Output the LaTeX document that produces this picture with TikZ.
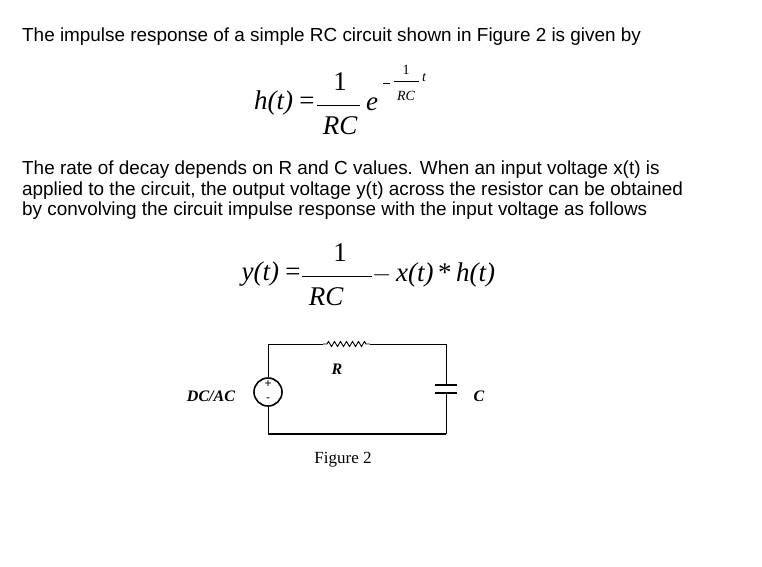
\documentclass[tikz,border=0pt]{standalone}
\usepackage{fontspec}
\setmainfont{Liberation Serif}
\newfontfamily\arial{Liberation Sans}
\usetikzlibrary{decorations.pathmorphing}
\begin{document}
\begin{tikzpicture}[x=1pt,y=-1pt,
  body/.style={anchor=west,inner sep=0,font=\arial\fontsize{18.9}{20.5}\selectfont,align=left},
  eq/.style={inner sep=0,font=\fontsize{27}{29}\selectfont},
  wire/.style={line width=0.9pt},
  lbl/.style={inner sep=0,font=\bfseries\itshape\fontsize{16}{18}\selectfont}]
\useasboundingbox (0,0) rectangle (762,566);
\node[body] (t1) at (22,37) {The impulse response of a simple RC circuit shown in Figure 2 is given by};
\node[body,anchor=north west] (t2) at (22,161) {The rate of decay depends on R and C values. When an input voltage x(t) is\\applied to the circuit, the output voltage y(t) across the resistor can be obtained\\by convolving the circuit impulse response with the input voltage as follows};
% h(t)
\node[eq,anchor=east] (h) at (316,103) {\itshape h(t)\,=};
\node[eq] (h1) at (340,82) {1};
\node[eq] (hrc) at (340,126) {\itshape RC};
\draw[line width=0.9pt] (317,105) -- (360,105);
\node[eq] (he) at (372,104) {\itshape e};
\draw[line width=0.6pt] (383,83) -- (390,83);
\node[inner sep=0,font=\fontsize{14}{15}\selectfont] (hs1) at (406,70) {1};
\draw[line width=0.6pt] (394,81) -- (419,81);
\node[inner sep=0,font=\itshape\fontsize{14}{15}\selectfont] (hs2) at (406,96) {RC};
\node[inner sep=0,font=\itshape\fontsize{14}{15}\selectfont] (hst) at (424,78) {t};
% y(t)
\node[eq,anchor=east] (y) at (302,274) {\itshape y(t)\,=};
\node[eq] (y1) at (340,253) {1};
\node[eq] (yrc) at (326,297) {\itshape RC};
\draw[line width=0.9pt] (302,276) -- (372,276);
\node[eq,anchor=west] (yx) at (372,275) {$-$\,\itshape x(t)\,\upshape*\,\itshape h(t)};
% circuit
\coordinate (tl) at (268,344); \coordinate (tr) at (446,344);
\coordinate (bl) at (268,434); \coordinate (br) at (446,434);
\coordinate (ra) at (323,344); \coordinate (rb) at (370,344);
\node[draw,circle,line width=1.6pt,minimum size=28pt,inner sep=0] (src) at (268,392) {};
\node[inner sep=0,font=\arial\fontsize{12}{12}\selectfont] (pl) at (268,384) {+};
\node[inner sep=0,font=\arial\fontsize{12}{12}\selectfont] (mi) at (268,400) {-};
\draw[wire] (src.north) -- (tl) -- (ra);
\draw[wire,decorate,decoration={zigzag,amplitude=2.5pt,segment length=6pt,pre length=4pt,post length=4pt}] (ra) -- (rb);
\draw[wire] (rb) -- (tr) -- (446,385);
\draw[line width=1.5pt] (435,385) -- (457,385) (435,393) -- (457,393);
\draw[wire] (446,393) -- (br);
\draw[line width=1.8pt] (br) -- (bl);
\draw[wire] (bl) -- (src.south);
\node[lbl] (R) at (337,369) {R};
\node[lbl] (C) at (479,396) {C};
\node[lbl] (dc) at (211,396) {DC/AC};
\node[inner sep=0,font=\fontsize{17}{19}\selectfont] (fig) at (343,460) {Figure 2};
\end{tikzpicture}
\end{document}
